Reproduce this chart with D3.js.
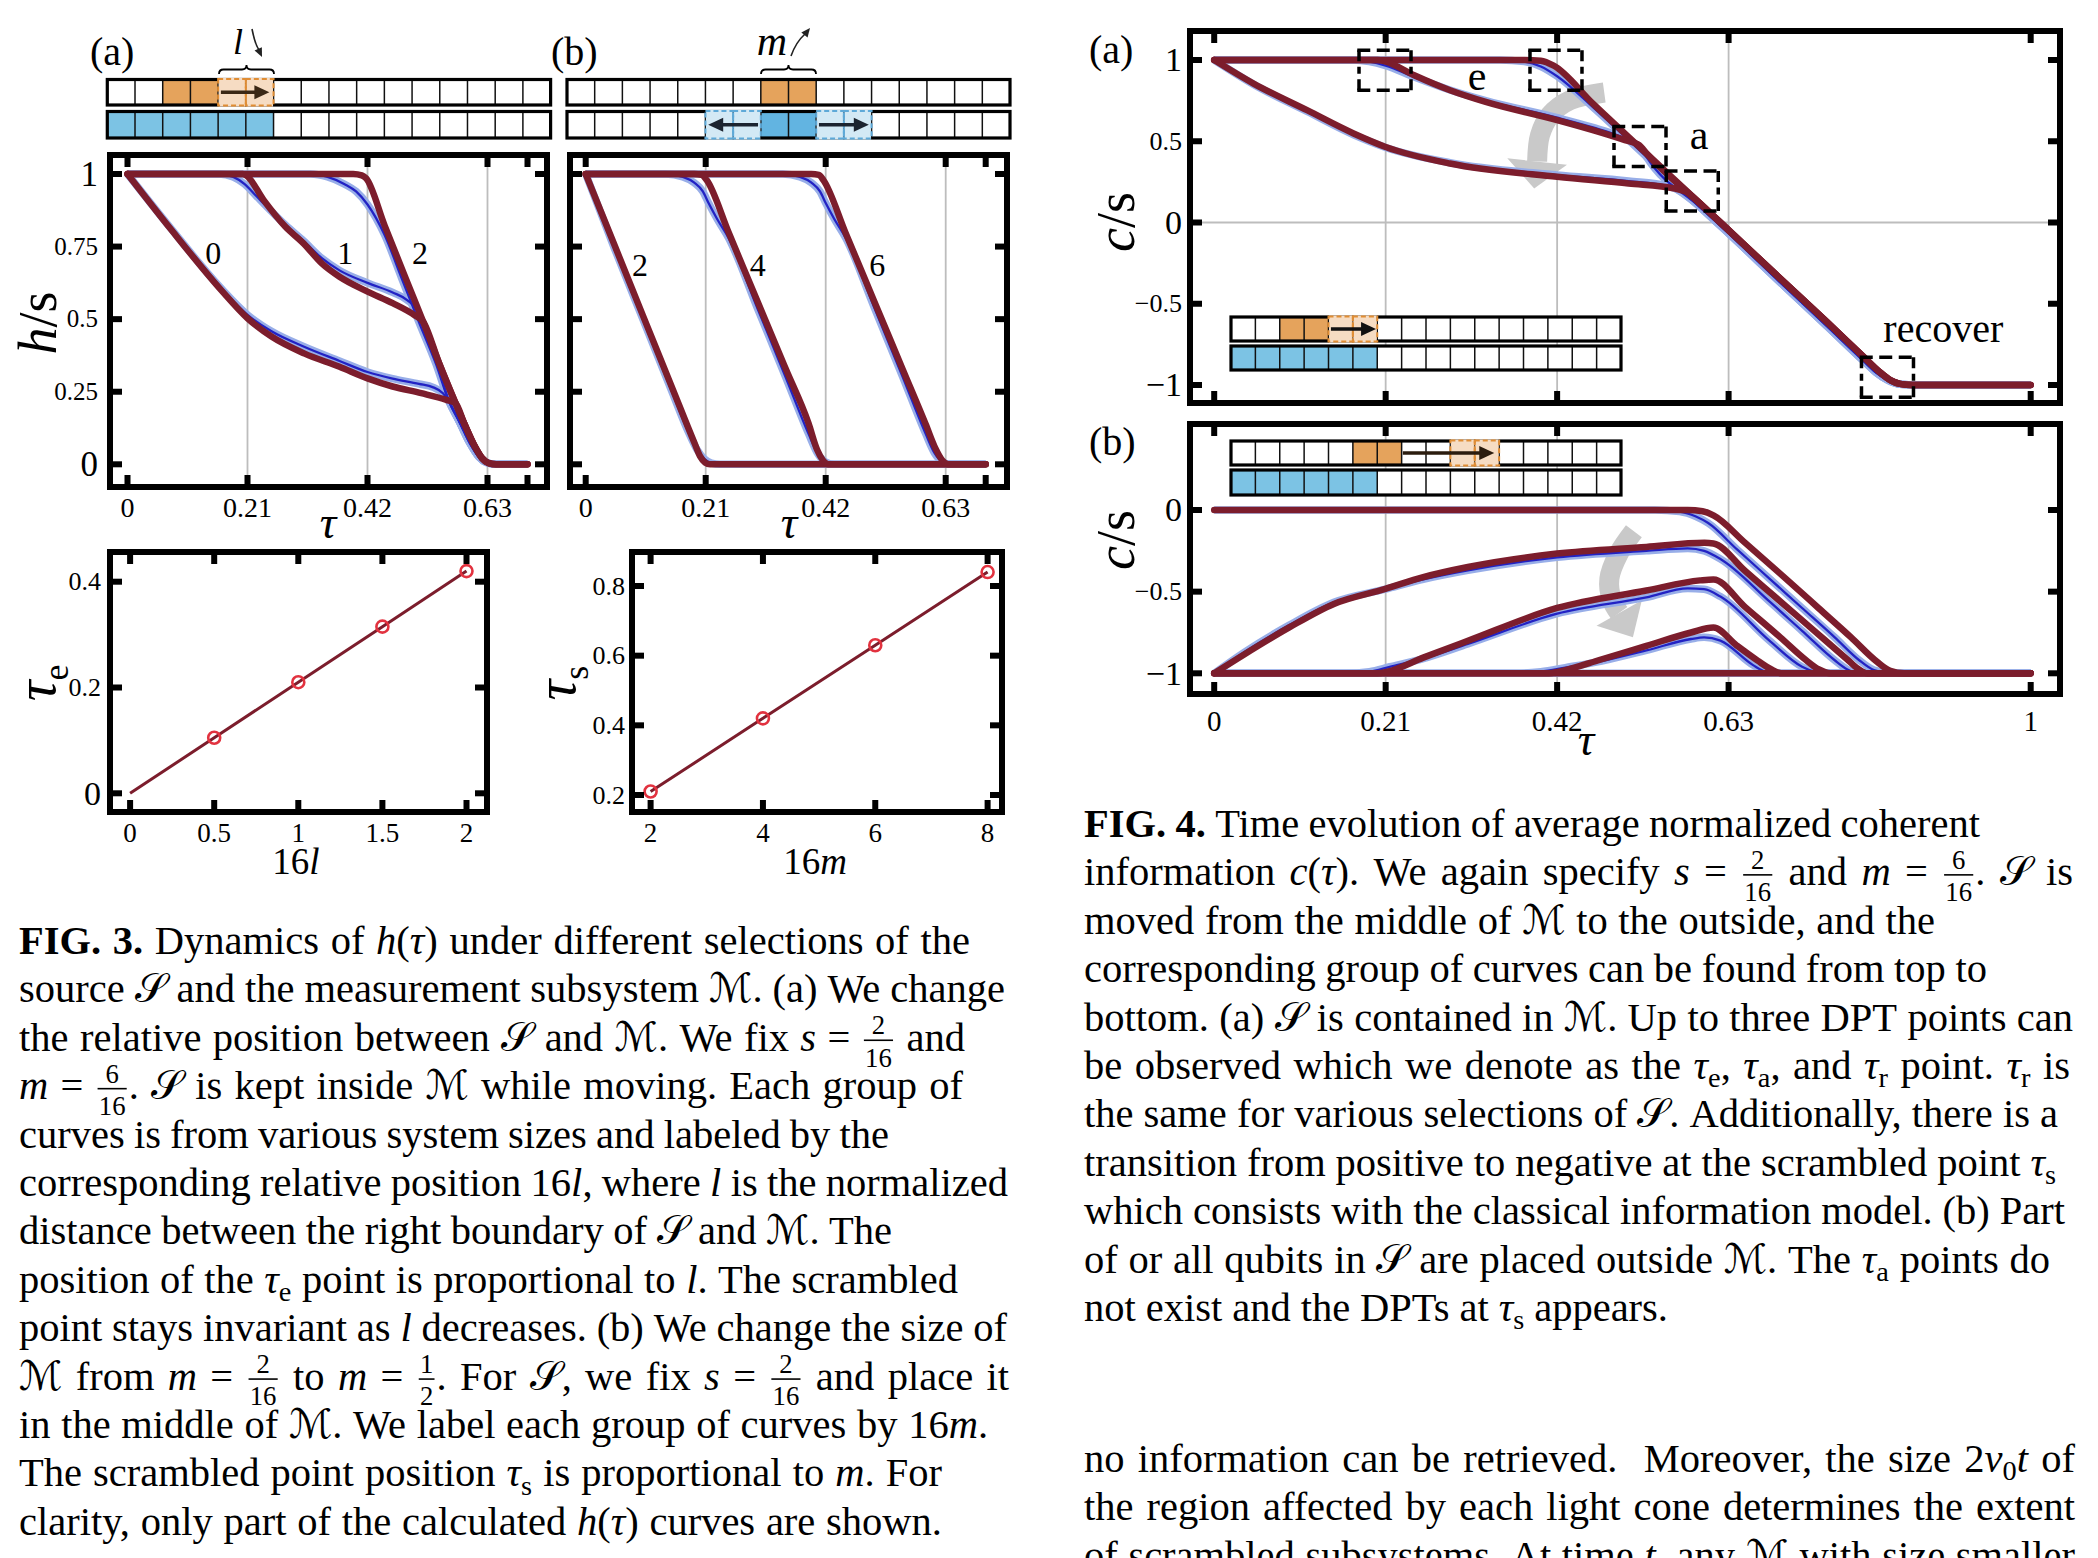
<!DOCTYPE html>
<html>
<head>
<meta charset="utf-8">
<script src="https://cdn.jsdelivr.net/npm/d3@7"></script>
<style>
  html,body{margin:0;padding:0;background:#fff;}
  svg{display:block;}
  text{font-family:"Liberation Serif","Times New Roman",serif;fill:#000;}
</style>
</head>
<body>
<svg id="fig" width="2098" height="1558" xmlns="http://www.w3.org/2000/svg"></svg>
<script>
// ======================= DATA =======================
// ---- FIG 3(a): h/s vs tau, groups labelled by 16l ----
const f3aGroupLabels = ["0", "1", "2"];
const f3aGroupLabelPos = [[0.15, 0.728], [0.381, 0.728], [0.512, 0.728]];
const f3aRed = [
  [[0,1],[0.077,0.807],[0.164,0.6],[0.21,0.503],[0.252,0.44],[0.309,0.382],[0.371,0.336],[0.42,0.296],[0.464,0.268],[0.514,0.245],[0.558,0.222],[0.574,0.211],[0.589,0.142],[0.608,0.061],[0.621,0.02],[0.632,0.004],[0.645,0],[0.70,0]],
  [[0,1],[0.202,1],[0.208,0.995],[0.238,0.911],[0.276,0.819],[0.308,0.761],[0.34,0.692],[0.371,0.646],[0.42,0.595],[0.464,0.555],[0.502,0.514],[0.5175,0.491],[0.545,0.35],[0.574,0.211],[0.589,0.142],[0.608,0.061],[0.621,0.02],[0.632,0.004],[0.645,0],[0.70,0]],
  [[0,1],[0.395,1],[0.41,0.995],[0.4175,0.985],[0.45,0.822],[0.485,0.65],[0.5175,0.491],[0.545,0.35],[0.574,0.211],[0.589,0.142],[0.608,0.061],[0.621,0.02],[0.632,0.004],[0.645,0],[0.70,0]]
];
const f3aBlue = [
  [[0,1],[0.077,0.81],[0.164,0.606],[0.21,0.515],[0.252,0.458],[0.309,0.405],[0.371,0.356],[0.42,0.318],[0.464,0.295],[0.51,0.277],[0.535,0.265],[0.552,0.245],[0.563,0.215],[0.58,0.15],[0.60,0.07],[0.615,0.025],[0.628,0.006],[0.645,0],[0.70,0]],
  [[0,1],[0.16,1],[0.185,0.99],[0.205,0.965],[0.225,0.925],[0.25,0.875],[0.276,0.825],[0.308,0.77],[0.34,0.71],[0.371,0.668],[0.42,0.625],[0.464,0.592],[0.49,0.565],[0.505,0.535],[0.52,0.46],[0.54,0.36],[0.563,0.215],[0.58,0.15],[0.60,0.07],[0.615,0.025],[0.628,0.006],[0.645,0],[0.70,0]],
  [[0,1],[0.32,1],[0.35,0.99],[0.38,0.965],[0.40,0.94],[0.42,0.895],[0.45,0.79],[0.48,0.64],[0.51,0.49],[0.54,0.345],[0.563,0.215],[0.58,0.15],[0.60,0.07],[0.615,0.025],[0.628,0.006],[0.645,0],[0.70,0]]
];
const f3TauTicks = [0, 0.21, 0.42, 0.63, 0.70];
const f3TauLabelVals = [0, 0.21, 0.42, 0.63];
const f3TauLabels = ["0", "0.21", "0.42", "0.63"];
const f3HTicks = [0, 0.25, 0.5, 0.75, 1];
const f3HLabels = ["0", "0.25", "0.5", "0.75", "1"];
const f3Grid = [0.21, 0.42, 0.63];

// ---- FIG 3(b): h/s vs tau, groups labelled by 16m ----
const f3bGroupLabels = ["2", "4", "6"];
const f3bGroupLabelPos = [[0.095, 0.687], [0.301, 0.687], [0.51, 0.687]];
const f3bRed = [
  [[0,1],[0.05,0.757],[0.1,0.513],[0.15,0.27],[0.19,0.075],[0.2,0.028],[0.209,0.006],[0.2175,0],[0.70,0]],
  [[0,1],[0.19,1],[0.203,0.997],[0.2117,0.979],[0.25,0.799],[0.30,0.564],[0.35,0.329],[0.39,0.141],[0.405,0.05],[0.415,0.014],[0.4246,0],[0.70,0]],
  [[0,1],[0.395,1],[0.408,0.997],[0.416,0.979],[0.455,0.796],[0.505,0.561],[0.555,0.326],[0.595,0.138],[0.612,0.055],[0.624,0.014],[0.6346,0],[0.70,0]]
];
const f3bBlue = [
  [[0,1],[0.003,0.985],[0.05,0.745],[0.1,0.5],[0.15,0.255],[0.18,0.11],[0.195,0.05],[0.208,0.018],[0.22,0.004],[0.235,0],[0.70,0]],
  [[0,1],[0.14,1],[0.17,0.99],[0.19,0.97],[0.205,0.94],[0.215,0.9],[0.23,0.845],[0.25,0.78],[0.30,0.54],[0.35,0.30],[0.39,0.105],[0.405,0.04],[0.42,0.008],[0.435,0],[0.70,0]],
  [[0,1],[0.345,1],[0.375,0.99],[0.395,0.97],[0.41,0.94],[0.42,0.9],[0.435,0.845],[0.455,0.78],[0.505,0.54],[0.555,0.30],[0.595,0.105],[0.61,0.04],[0.625,0.008],[0.64,0],[0.70,0]]
];

// ---- FIG 3 lower panels ----
const f3c16l = [0, 0.5, 1, 1.5, 2];
const f3cTauE = [0, 0.105, 0.21, 0.315, 0.42];
const f3cMarked = [false, true, true, true, true];
const f3cXTicks = [0, 0.5, 1, 1.5, 2];
const f3cXLabels = ["0", "0.5", "1", "1.5", "2"];
const f3cYTicks = [0, 0.2, 0.4];
const f3cYLabels = ["0", "0.2", "0.4"];
const f3d16m = [2, 4, 6, 8];
const f3dTauS = [0.21, 0.42, 0.63, 0.84];
const f3dXTicks = [2, 4, 6, 8];
const f3dXLabels = ["2", "4", "6", "8"];
const f3dYTicks = [0.2, 0.4, 0.6, 0.8];
const f3dYLabels = ["0.2", "0.4", "0.6", "0.8"];

// ---- FIG 4(a): c/s vs tau, S inside M ----
const f4aRed = [
  [[0,1],[0.38,1],[0.40,0.995],[0.4157,0.965],[0.4638,0.732],[0.5293,0.425],[0.595,0.117],[0.62,0],[0.70,-0.376],[0.75,-0.61],[0.795,-0.825],[0.815,-0.92],[0.828,-0.97],[0.84,-0.993],[0.855,-1],[1,-1]],
  [[0,1],[0.20,1],[0.21,0.99],[0.245,0.906],[0.2888,0.814],[0.3325,0.742],[0.42,0.63],[0.4638,0.568],[0.5031,0.5065],[0.5206,0.4757],[0.5293,0.425],[0.595,0.117],[0.62,0],[0.70,-0.376],[0.75,-0.61],[0.795,-0.825],[0.815,-0.92],[0.828,-0.97],[0.84,-0.993],[0.855,-1],[1,-1]],
  [[0,1],[0.0482,0.855],[0.1137,0.691],[0.1707,0.548],[0.21,0.465],[0.2888,0.363],[0.42,0.281],[0.5075,0.24],[0.5644,0.209],[0.5775,0.19],[0.595,0.117],[0.62,0],[0.70,-0.376],[0.75,-0.61],[0.795,-0.825],[0.815,-0.92],[0.828,-0.97],[0.84,-0.993],[0.855,-1],[1,-1]]
];
const f4aBlue = [
  [[0,1],[0.35,1],[0.38,0.99],[0.40,0.96],[0.42,0.9],[0.4638,0.71],[0.5293,0.405],[0.595,0.095],[0.62,-0.02],[0.70,-0.40],[0.75,-0.635],[0.795,-0.85],[0.81,-0.92],[0.825,-0.97],[0.84,-0.995],[0.86,-1],[1,-1]],
  [[0,1],[0.17,1],[0.19,0.99],[0.21,0.965],[0.245,0.895],[0.2888,0.815],[0.3325,0.75],[0.42,0.645],[0.4638,0.585],[0.495,0.535],[0.51,0.5],[0.525,0.44],[0.5293,0.405],[0.595,0.095],[0.62,-0.02],[0.70,-0.40],[0.75,-0.635],[0.795,-0.85],[0.81,-0.92],[0.825,-0.97],[0.84,-0.995],[0.86,-1],[1,-1]],
  [[0,1],[0.0482,0.85],[0.1137,0.683],[0.1707,0.54],[0.21,0.462],[0.2888,0.368],[0.42,0.292],[0.5075,0.255],[0.555,0.225],[0.575,0.18],[0.595,0.095],[0.62,-0.02],[0.70,-0.40],[0.75,-0.635],[0.795,-0.85],[0.81,-0.92],[0.825,-0.97],[0.84,-0.995],[0.86,-1],[1,-1]]
];
const f4aBoxes = [[0.2092,0.937],[0.4186,0.937],[0.5215,0.467],[0.5855,0.194],[0.8246,-0.952]];
const f4aNotes = [["e",0.322,0.876],["a",0.594,0.512]];
const f4aRecover = ["recover", 0.8195, -0.737];
const f4aArrow = [[0.4777,0.80],[0.4357,0.752],[0.4113,0.66],[0.399,0.537],[0.3955,0.375]];
const f4TauTicks = [0, 0.21, 0.42, 0.63, 1];
const f4TauLabels = ["0", "0.21", "0.42", "0.63", "1"];
const f4aCTicks = [1, 0.5, 0, -0.5, -1];
const f4aCLabels = ["1", "0.5", "0", "\u22120.5", "\u22121"];

// ---- FIG 4(b): c/s vs tau, S partly/fully outside M ----
const f4bRed = [
  [[0,0],[0.58,0],[0.598,-0.008],[0.612,-0.035],[0.65,-0.2],[0.70,-0.42],[0.74,-0.6],[0.78,-0.78],[0.812,-0.93],[0.828,-0.985],[0.845,-1],[1,-1]],
  [[0,-1],[0.0372,-0.883],[0.092,-0.719],[0.1466,-0.575],[0.2096,-0.483],[0.256,-0.411],[0.3107,-0.349],[0.42,-0.267],[0.5293,-0.226],[0.6005,-0.201],[0.6114,-0.205],[0.65,-0.372],[0.6934,-0.56],[0.735,-0.74],[0.7754,-0.915],[0.788,-0.97],[0.80,-1],[1,-1]],
  [[0,-1],[0.20,-1],[0.212,-0.99],[0.256,-0.904],[0.3107,-0.801],[0.42,-0.6],[0.5293,-0.493],[0.595,-0.431],[0.6114,-0.425],[0.65,-0.593],[0.6934,-0.78],[0.725,-0.92],[0.74,-0.975],[0.755,-1],[1,-1]],
  [[0,-1],[0.41,-1],[0.422,-0.99],[0.4747,-0.914],[0.5293,-0.832],[0.584,-0.75],[0.6114,-0.719],[0.64,-0.83],[0.666,-0.924],[0.682,-0.975],[0.695,-1],[1,-1]],
  [[0,-1],[1,-1]]
];
const f4bBlue = [
  [[0,0],[0.54,0],[0.57,-0.01],[0.59,-0.04],[0.605,-0.08],[0.64,-0.24],[0.68,-0.42],[0.72,-0.6],[0.76,-0.78],[0.79,-0.92],[0.808,-0.98],[0.83,-1],[1,-1]],
  [[0,-1],[0.0372,-0.87],[0.092,-0.705],[0.1466,-0.565],[0.2096,-0.485],[0.256,-0.425],[0.3107,-0.37],[0.42,-0.29],[0.5293,-0.25],[0.58,-0.235],[0.60,-0.25],[0.62,-0.3],[0.68,-0.56],[0.72,-0.74],[0.76,-0.92],[0.775,-0.975],[0.79,-1],[1,-1]],
  [[0,-1],[0.16,-1],[0.19,-0.99],[0.215,-0.96],[0.256,-0.91],[0.3107,-0.82],[0.42,-0.635],[0.5293,-0.535],[0.58,-0.48],[0.60,-0.485],[0.62,-0.53],[0.68,-0.8],[0.72,-0.96],[0.735,-0.99],[0.75,-1],[1,-1]],
  [[0,-1],[0.37,-1],[0.40,-0.99],[0.43,-0.965],[0.4747,-0.925],[0.5293,-0.86],[0.584,-0.79],[0.60,-0.78],[0.62,-0.8],[0.66,-0.95],[0.675,-0.99],[0.69,-1],[1,-1]],
  [[0,-1],[1,-1]]
];
const f4bArrow = [[0.514,-0.13],[0.495,-0.27],[0.484,-0.42],[0.487,-0.55],[0.496,-0.63]];
const f4bCTicks = [0, -0.5, -1];
const f4bCLabels = ["0", "\u22120.5", "\u22121"];

// ---- chain diagrams (16 qubits): . empty, O source, o moved source, B measured, b extended M, D core M ----
const chain3aTop = "..OOoo..........";
const chain3aBot = "BBBBBB..........";
const chain3bTop = ".......OO.......";
const chain3bBot = ".....bbDDbb.....";
const chain4aTop = "..OOoo..........";
const chain4aBot = "BBBBBB..........";
const chain4bTop = ".....OO..oo.....";
const chain4bBot = "BBBBBB..........";

// ---- captions ----
const cap3 = [
  "{b:FIG. 3.} Dynamics of {i:h}({i:τ}) under different selections of the",
  "source {c:𝒮} and the measurement subsystem {c:ℳ}. (a) We change",
  "the relative position between {c:𝒮} and {c:ℳ}. We fix {i:s} = {f:2/16} and",
  "{i:m} = {f:6/16}. {c:𝒮} is kept inside {c:ℳ} while moving. Each group of",
  "curves is from various system sizes and labeled by the",
  "corresponding relative position 16{i:l}, where {i:l} is the normalized",
  "distance between the right boundary of {c:𝒮} and {c:ℳ}. The",
  "position of the {i:τ}{s:e} point is proportional to {i:l}. The scrambled",
  "point stays invariant as {i:l} decreases. (b) We change the size of",
  "{c:ℳ} from {i:m} = {f:2/16} to {i:m} = {f:1/2}. For {c:𝒮}, we fix {i:s} = {f:2/16} and place it",
  "in the middle of {c:ℳ}. We label each group of curves by 16{i:m}.",
  "The scrambled point position {i:τ}{s:s} is proportional to {i:m}. For",
  "clarity, only part of the calculated {i:h}({i:τ}) curves are shown."
];
const cap3Ends = [970, 1005, 965, 963, 889, 1008, 892, 958, 1007, 1009, 988, 942, 942];
const cap4 = [
  "{b:FIG. 4.} Time evolution of average normalized coherent",
  "information {i:c}({i:τ}). We again specify {i:s} = {f:2/16} and {i:m} = {f:6/16}. {c:𝒮} is",
  "moved from the middle of {c:ℳ} to the outside, and the",
  "corresponding group of curves can be found from top to",
  "bottom. (a) {c:𝒮} is contained in {c:ℳ}. Up to three DPT points can",
  "be observed which we denote as the {i:τ}{s:e}, {i:τ}{s:a}, and {i:τ}{s:r} point. {i:τ}{s:r} is",
  "the same for various selections of {c:𝒮}. Additionally, there is a",
  "transition from positive to negative at the scrambled point {i:τ}{s:s}",
  "which consists with the classical information model. (b) Part",
  "of or all qubits in {c:𝒮} are placed outside {c:ℳ}. The {i:τ}{s:a} points do",
  "not exist and the DPTs at {i:τ}{s:s} appears."
];
const cap4Ends = [1980, 2073, 1935, 1987, 2073, 2070, 2058, 2056, 2065, 2050, 1668];
const body4 = [
  "no information can be retrieved.  Moreover, the size 2{i:v}{s:0}{i:t} of",
  "the region affected by each light cone determines the extent",
  "of scrambled subsystems. At time {i:t}, any {c:ℳ} with size smaller"
];

// ======================= STYLE =======================
const RED = "#7c1d2c", BLUE = "#2222c4", HALO = "#98aee8", GRID = "#bdbdbd", GRAY = "#c9c9c9";
const ORANGE = "#e5a35c", FADE = "#f6dcc3", FADEB = "#e08d34", CELLB = "#7cc3e4", DARKB = "#62b4e1", LIGHTB = "#d3e9f5", LIGHTBB = "#5ea9d8";
const MARK = "#e2323f";
const CAL = "'DejaVu Serif','DejaVu Sans','Noto Sans',serif";

const svg = d3.select("#fig");
svg.append("rect").attr("width", 2098).attr("height", 1558).attr("fill", "#fff");

// ======================= HELPERS =======================
function grid(g, fr, gx, gy, x, y) {
  gx.forEach(v => g.append("line").attr("x1", x(v)).attr("x2", x(v)).attr("y1", fr[1] + 6).attr("y2", fr[3] - 6)
    .attr("stroke", GRID).attr("stroke-width", 1.8));
  gy.forEach(v => g.append("line").attr("y1", y(v)).attr("y2", y(v)).attr("x1", fr[0] + 6).attr("x2", fr[2] - 6)
    .attr("stroke", GRID).attr("stroke-width", 1.8));
}
function frameTicks(g, fr, xs, ys, x, y) {
  const [x0, y0, x1, y1] = fr, sw = 6, tl = 15, tw = 6;
  xs.forEach(v => {
    const p = x(v);
    g.append("rect").attr("x", p - tw / 2).attr("y", y0).attr("width", tw).attr("height", tl).attr("fill", "#000");
    g.append("rect").attr("x", p - tw / 2).attr("y", y1 - tl).attr("width", tw).attr("height", tl).attr("fill", "#000");
  });
  ys.forEach(v => {
    const p = y(v);
    g.append("rect").attr("x", x0).attr("y", p - tw / 2).attr("width", tl).attr("height", tw).attr("fill", "#000");
    g.append("rect").attr("x", x1 - tl).attr("y", p - tw / 2).attr("width", tl).attr("height", tw).attr("fill", "#000");
  });
  g.append("rect").attr("x", x0 + sw / 2).attr("y", y0 + sw / 2).attr("width", x1 - x0 - sw).attr("height", y1 - y0 - sw)
    .attr("fill", "none").attr("stroke", "#000").attr("stroke-width", sw);
}
function bundles(g, x, y, blues, reds) {
  const line = d3.line().x(d => x(d[0])).y(d => y(d[1])).curve(d3.curveMonotoneX);
  blues.forEach(b => g.append("path").attr("d", line(b)).attr("fill", "none").attr("stroke", HALO).attr("stroke-width", 7.5).attr("stroke-linejoin", "round"));
  blues.forEach(b => g.append("path").attr("d", line(b)).attr("fill", "none").attr("stroke", BLUE).attr("stroke-width", 2.3).attr("stroke-linejoin", "round"));
  reds.forEach(r => g.append("path").attr("d", line(r)).attr("fill", "none").attr("stroke", RED).attr("stroke-width", 6.5)
    .attr("stroke-linejoin", "round").attr("stroke-linecap", "round"));
}
function xLabels(g, vals, labels, x, base, fs) {
  vals.forEach((v, i) => g.append("text").attr("x", x(v)).attr("y", base).attr("text-anchor", "middle").attr("font-size", fs).text(labels[i]));
}
function yLabels(g, vals, labels, y, right, fsSmall, fsBig) {
  vals.forEach((v, i) => {
    const big = labels[i].indexOf(".") < 0;
    const fs = big ? fsBig : fsSmall;
    g.append("text").attr("x", right).attr("y", y(v) + fs * 0.33).attr("text-anchor", "end").attr("font-size", fs).text(labels[i]);
  });
}
function mathText(g, x, y, parts, fs, rot) {
  const t = g.append("text").attr("font-size", fs).attr("text-anchor", "middle");
  if (rot) t.attr("transform", `translate(${x},${y}) rotate(-90)`).attr("dy", "0.3em");
  else t.attr("x", x).attr("y", y);
  parts.forEach(p => {
    const s = t.append("tspan").text(p[0]);
    if (p[1] === "i") s.attr("font-style", "italic");
    if (p[1] === "s") s.attr("font-size", fs * 0.62).attr("dy", fs * 0.22);
  });
  return t;
}
function arrowHead(g, tip, ux, uy, len, hw, color) {
  const bx = tip[0] - ux * len, by = tip[1] - uy * len;
  g.append("path").attr("d", `M${tip[0]},${tip[1]}L${bx - uy * hw},${by + ux * hw}L${bx + uy * hw},${by - ux * hw}Z`).attr("fill", color);
}
function chain(g, x, y, w, h, pat, arrows) {
  const n = pat.length, cw = w / n;
  const fill = { ".": "#fff", "O": ORANGE, "o": FADE, "B": CELLB, "b": LIGHTB, "D": DARKB };
  for (let i = 0; i < n; i++) g.append("rect").attr("x", x + i * cw).attr("y", y).attr("width", cw).attr("height", h).attr("fill", fill[pat[i]]);
  for (let i = 1; i < n; i++) g.append("line").attr("x1", x + i * cw).attr("x2", x + i * cw).attr("y1", y).attr("y2", y + h).attr("stroke", "#111").attr("stroke-width", 1.5);
  g.append("rect").attr("x", x).attr("y", y).attr("width", w).attr("height", h).attr("fill", "none").attr("stroke", "#000").attr("stroke-width", 3.2);
  for (let i = 0; i < n; i++) {
    const c = pat[i];
    if (c === "o" || c === "b") {
      g.append("rect").attr("x", x + i * cw + 0.5).attr("y", y - 1.6).attr("width", cw - 1).attr("height", h + 3.2).attr("fill", fill[c]);
    }
  }
  for (let i = 0; i < n; i++) {
    const c = pat[i];
    if (c === "o" || c === "b") {
      g.append("rect").attr("x", x + i * cw).attr("y", y - 0.5).attr("width", cw).attr("height", h + 1).attr("fill", "none")
        .attr("stroke", c === "o" ? FADEB : LIGHTBB).attr("stroke-width", 2).attr("stroke-dasharray", "5,3");
    }
  }
  (arrows || []).forEach(a => {
    const x1 = x + a[0] * cw, x2 = x + a[1] * cw, yy = y + h / 2, dir = Math.sign(x2 - x1);
    g.append("line").attr("x1", x1).attr("x2", x2 - dir * 12).attr("y1", yy).attr("y2", yy).attr("stroke", a[2]).attr("stroke-width", 3.5);
    arrowHead(g, [x2, yy], dir, 0, 15, 7, a[2]);
  });
}
function brace(g, x1, x2, yb, hgt) {
  const m = (x1 + x2) / 2, q = hgt / 2;
  g.append("path").attr("d",
    `M${x1},${yb}Q${x1},${yb - q} ${x1 + q},${yb - q}L${m - q},${yb - q}Q${m},${yb - q} ${m},${yb - hgt}` +
    `Q${m},${yb - q} ${m + q},${yb - q}L${x2 - q},${yb - q}Q${x2},${yb - q} ${x2},${yb}`)
    .attr("fill", "none").attr("stroke", "#000").attr("stroke-width", 1.8);
}
function grayArrow(g, pts, x, y, bw, hl, hw) {
  const P = pts.map(d => [x(d[0]), y(d[1])]);
  g.append("path").attr("d", d3.line().curve(d3.curveCatmullRom)(P)).attr("fill", "none").attr("stroke", GRAY).attr("stroke-width", bw);
  const a = P[P.length - 2], b = P[P.length - 1];
  const dx = b[0] - a[0], dy = b[1] - a[1], L = Math.hypot(dx, dy), ux = dx / L, uy = dy / L;
  arrowHead(g, [b[0] + ux * hl, b[1] + uy * hl], ux, uy, hl, hw, GRAY);
}
function dashedBox(g, cx, cy, w, h) {
  const x0 = cx - w / 2, y0 = cy - h / 2;
  const seg = (xa, ya, xb, yb, da) => g.append("line").attr("x1", xa).attr("y1", ya).attr("x2", xb).attr("y2", yb)
    .attr("stroke", "#000").attr("stroke-width", 3.5).attr("stroke-dasharray", da);
  const dh = "13,6.5,13,6.5,13", dv = "11,5.5,7,5.5,11";
  seg(x0 - 1.75, y0, x0 + w + 1.75, y0, dh);
  seg(x0 - 1.75, y0 + h, x0 + w + 1.75, y0 + h, dh);
  seg(x0, y0, x0, y0 + h, dv);
  seg(x0 + w, y0, x0 + w, y0 + h, dv);
}

// ---- rich text (captions) ----
const meas = svg.append("text").attr("x", -3000).attr("y", -3000);
function styleText(el, st, fs) {
  el.attr("font-size", st === "s" ? fs * 0.7 : fs)
    .attr("font-weight", st === "b" ? "bold" : "normal")
    .attr("font-style", st === "i" ? "italic" : "normal")
    .style("font-family", st === "c" ? CAL : null);
}
function measureText(str, st, fs) { styleText(meas, st, fs); meas.text(str); return meas.node().getComputedTextLength(); }
function parseMarkup(str) {
  const out = []; const re = /\{(\w):([^}]*)\}/g; let last = 0, m;
  while ((m = re.exec(str))) {
    if (m.index > last) out.push({ t: "n", v: str.slice(last, m.index) });
    out.push({ t: m[1], v: m[2] }); last = re.lastIndex;
  }
  if (last < str.length) out.push({ t: "n", v: str.slice(last) });
  return out;
}
function richLine(g, x0, y0, markup, fs, target) {
  const toks = [];
  parseMarkup(markup).forEach(s => {
    if (s.t === "f") { toks.push({ k: "f", v: s.v }); return; }
    s.v.split(/( +)/).forEach(p => {
      if (!p) return;
      if (p[0] === " ") toks.push({ k: "sp", st: s.t, n: p.length });
      else toks.push({ k: "w", st: s.t, v: p });
    });
  });
  const sfs = fs * 0.66;
  toks.forEach(t => {
    if (t.k === "w") t.w = measureText(t.v, t.st, fs);
    else if (t.k === "sp") t.w = (measureText("n n", t.st, fs) - measureText("nn", t.st, fs)) * t.n;
    else {
      const [a, b] = t.v.split("/"); t.a = a; t.b = b;
      t.w = Math.max(measureText(a, "n", sfs), measureText(b, "n", sfs)) + fs * 0.16;
    }
  });
  const natural = d3.sum(toks, t => t.w);
  const nsp = d3.sum(toks, t => t.k === "sp" ? t.n : 0);
  const extra = (target && nsp) ? (target - x0 - natural) / nsp : 0;
  let cx = x0;
  toks.forEach(t => {
    if (t.k === "sp") { cx += t.w + extra * t.n; return; }
    if (t.k === "w") {
      const el = g.append("text").attr("x", cx).attr("y", t.st === "s" ? y0 + fs * 0.2 : y0).text(t.v);
      styleText(el, t.st, fs); cx += t.w; return;
    }
    const mid = cx + t.w / 2;
    g.append("text").attr("x", mid).attr("y", y0 - fs * 0.41).attr("text-anchor", "middle").attr("font-size", sfs).text(t.a);
    g.append("text").attr("x", mid).attr("y", y0 + fs * 0.39).attr("text-anchor", "middle").attr("font-size", sfs).text(t.b);
    g.append("line").attr("x1", cx + fs * 0.05).attr("x2", cx + t.w - fs * 0.05).attr("y1", y0 - fs * 0.26).attr("y2", y0 - fs * 0.26)
      .attr("stroke", "#000").attr("stroke-width", 1.6);
    cx += t.w;
  });
}

// ======================= FIG 3(a) =======================
{
  const fr = [107, 152, 550, 490];
  const x = d3.scaleLinear().domain([0, 0.63]).range([127.5, 487.5]);
  const y = d3.scaleLinear().domain([0, 1]).range([464.3, 174]);
  const g = svg.append("g");
  grid(g, fr, f3Grid, [], x, y);
  bundles(g, x, y, f3aBlue, f3aRed);
  frameTicks(g, fr, f3TauTicks, f3HTicks, x, y);
  xLabels(g, f3TauLabelVals, f3TauLabels, x, 517, 28);
  yLabels(g, f3HTicks, f3HLabels, y, 98, 25, 35);
  f3aGroupLabels.forEach((s, i) => g.append("text").attr("x", x(f3aGroupLabelPos[i][0])).attr("y", y(f3aGroupLabelPos[i][1]) + 11)
    .attr("text-anchor", "middle").attr("font-size", 32).text(s));
  mathText(g, 40, 323, [["h", "i"], ["/s", "n"]], 54, true);
  mathText(g, 328, 538, [["τ", "i"]], 46, false);
  g.append("text").attr("x", 90).attr("y", 65).attr("font-size", 40).text("(a)");
  chain(g, 107.3, 79.5, 443.3, 25.5, chain3aTop, [[4.1, 5.85, "#3a2816"]]);
  chain(g, 107.3, 111.5, 443.3, 26.5, chain3aBot, []);
  brace(g, 219, 274, 74, 9);
  g.append("text").attr("x", 238).attr("y", 54).attr("text-anchor", "middle").attr("font-size", 36).attr("font-style", "italic").text("l");
  g.append("path").attr("d", "M252,29 Q255,44 259,50").attr("fill", "none").attr("stroke", "#222").attr("stroke-width", 1.6);
  arrowHead(g, [262, 57], 0.42, 0.91, 9, 4, "#222");
}

// ======================= FIG 3(b) =======================
{
  const fr = [567, 152, 1010, 490];
  const x = d3.scaleLinear().domain([0, 0.63]).range([585.7, 945.7]);
  const y = d3.scaleLinear().domain([0, 1]).range([464.3, 174]);
  const g = svg.append("g");
  grid(g, fr, f3Grid, [], x, y);
  bundles(g, x, y, f3bBlue, f3bRed);
  frameTicks(g, fr, f3TauTicks, f3HTicks, x, y);
  xLabels(g, f3TauLabelVals, f3TauLabels, x, 517, 28);
  f3bGroupLabels.forEach((s, i) => g.append("text").attr("x", x(f3bGroupLabelPos[i][0])).attr("y", y(f3bGroupLabelPos[i][1]) + 11)
    .attr("text-anchor", "middle").attr("font-size", 32).text(s));
  mathText(g, 789, 538, [["τ", "i"]], 46, false);
  g.append("text").attr("x", 551).attr("y", 65).attr("font-size", 40).text("(b)");
  chain(g, 567, 79.5, 443, 25.5, chain3bTop, []);
  chain(g, 567, 111.5, 443, 26.5, chain3bBot, [[6.9, 5.1, "#1c2430"], [9.1, 10.9, "#1c2430"]]);
  brace(g, 761, 816, 74, 9);
  g.append("text").attr("x", 772).attr("y", 55).attr("text-anchor", "middle").attr("font-size", 42).attr("font-style", "italic").text("m");
  g.append("path").attr("d", "M791,56 Q796,42 805,34").attr("fill", "none").attr("stroke", "#222").attr("stroke-width", 1.6);
  arrowHead(g, [810, 28], 0.62, -0.78, 9, 4, "#222");
}

// ======================= FIG 3(c) =======================
{
  const fr = [107, 549, 490, 815];
  const x = d3.scaleLinear().domain([0, 2]).range([130.1, 466.5]);
  const y = d3.scaleLinear().domain([0, 0.4]).range([793.3, 581.7]);
  const g = svg.append("g");
  const pts = f3c16l.map((v, i) => [v, f3cTauE[i]]);
  g.append("path").attr("d", d3.line().x(d => x(d[0])).y(d => y(d[1]))(pts)).attr("fill", "none").attr("stroke", RED).attr("stroke-width", 3);
  pts.forEach((p, i) => { if (f3cMarked[i]) g.append("circle").attr("cx", x(p[0])).attr("cy", y(p[1])).attr("r", 6).attr("fill", "none").attr("stroke", MARK).attr("stroke-width", 2.6); });
  frameTicks(g, fr, f3cXTicks, f3cYTicks, x, y);
  xLabels(g, f3cXTicks, f3cXLabels, x, 842, 27);
  yLabels(g, f3cYTicks, f3cYLabels, y, 101, 26, 34);
  mathText(g, 296, 874, [["16", "n"], ["l", "i"]], 37, false);
  mathText(g, 38, 683, [["τ", "i"], ["e", "s"]], 58, true);
}

// ======================= FIG 3(d) =======================
{
  const fr = [629, 549, 1005, 815];
  const x = d3.scaleLinear().domain([2, 8]).range([650.6, 987.6]);
  const y = d3.scaleLinear().domain([0.2, 0.8]).range([795, 586]);
  const g = svg.append("g");
  const pts = f3d16m.map((v, i) => [v, f3dTauS[i]]);
  g.append("path").attr("d", d3.line().x(d => x(d[0])).y(d => y(d[1]))(pts)).attr("fill", "none").attr("stroke", RED).attr("stroke-width", 3);
  pts.forEach(p => g.append("circle").attr("cx", x(p[0])).attr("cy", y(p[1])).attr("r", 6).attr("fill", "none").attr("stroke", MARK).attr("stroke-width", 2.6));
  frameTicks(g, fr, f3dXTicks, f3dYTicks, x, y);
  xLabels(g, f3dXTicks, f3dXLabels, x, 842, 27);
  yLabels(g, f3dYTicks, f3dYLabels, y, 625, 26, 34);
  mathText(g, 815, 874, [["16", "n"], ["m", "i"]], 37, false);
  mathText(g, 558, 683, [["τ", "i"], ["s", "s"]], 58, true);
}

// ======================= FIG 4(a) =======================
{
  const fr = [1187, 28, 2063, 406];
  const x = d3.scaleLinear().domain([0, 1]).range([1214.2, 2030.7]);
  const y = d3.scaleLinear().domain([-1, 1]).range([385, 60]);
  const g = svg.append("g");
  grid(g, fr, f3Grid, [0], x, y);
  grayArrow(g, f4aArrow, x, y, 20, 27, 30);
  bundles(g, x, y, f4aBlue, f4aRed);
  f4aBoxes.forEach(b => dashedBox(g, x(b[0]), y(b[1]), 52, 40));
  f4aNotes.forEach(n => g.append("text").attr("x", x(n[1])).attr("y", y(n[2]) + 10).attr("text-anchor", "middle").attr("font-size", 42).text(n[0]));
  g.append("text").attr("x", x(f4aRecover[1])).attr("y", y(f4aRecover[2])).attr("font-size", 40).text(f4aRecover[0]);
  chain(g, 1231, 317, 390, 24, chain4aTop, [[4.1, 5.95, "#111"]]);
  chain(g, 1231, 346, 390, 24, chain4aBot, []);
  frameTicks(g, fr, f4TauTicks, f4aCTicks, x, y);
  yLabels(g, f4aCTicks, f4aCLabels, y, 1182, 26, 34);
  mathText(g, 1118, 222, [["c", "i"], ["/s", "n"]], 54, true);
  g.append("text").attr("x", 1089).attr("y", 63).attr("font-size", 40).text("(a)");
}

// ======================= FIG 4(b) =======================
{
  const fr = [1187, 421, 2063, 697];
  const x = d3.scaleLinear().domain([0, 1]).range([1214.2, 2030.7]);
  const y = d3.scaleLinear().domain([-1, 0]).range([673.3, 510]);
  const g = svg.append("g");
  grid(g, fr, f3Grid, [], x, y);
  grayArrow(g, f4bArrow, x, y, 20, 28, 26);
  chain(g, 1231, 441, 390, 24, chain4bTop, [[7.05, 10.8, "#2b1c0e"]]);
  chain(g, 1231, 470, 390, 25, chain4bBot, []);
  bundles(g, x, y, f4bBlue, f4bRed);
  frameTicks(g, fr, f4TauTicks, f4bCTicks, x, y);
  yLabels(g, f4bCTicks, f4bCLabels, y, 1182, 26, 34);
  xLabels(g, f4TauTicks, f4TauLabels, x, 731, 29);
  mathText(g, 1118, 540, [["c", "i"], ["/s", "n"]], 54, true);
  mathText(g, 1586, 755, [["τ", "i"]], 46, false);
  g.append("text").attr("x", 1089).attr("y", 455).attr("font-size", 40).text("(b)");
}

// ======================= CAPTIONS =======================
{
  const g = svg.append("g");
  const FS = 40.5, LH = 48.4;
  cap3.forEach((s, i) => richLine(g, 19, 954 + i * LH, s, FS, cap3Ends[i]));
  cap4.forEach((s, i) => richLine(g, 1084, 837 + i * LH, s, FS, cap4Ends[i]));
  body4.forEach((s, i) => richLine(g, 1084, 1472 + i * LH, s, FS, 2075));
}
meas.remove();
</script>
</body>
</html>
